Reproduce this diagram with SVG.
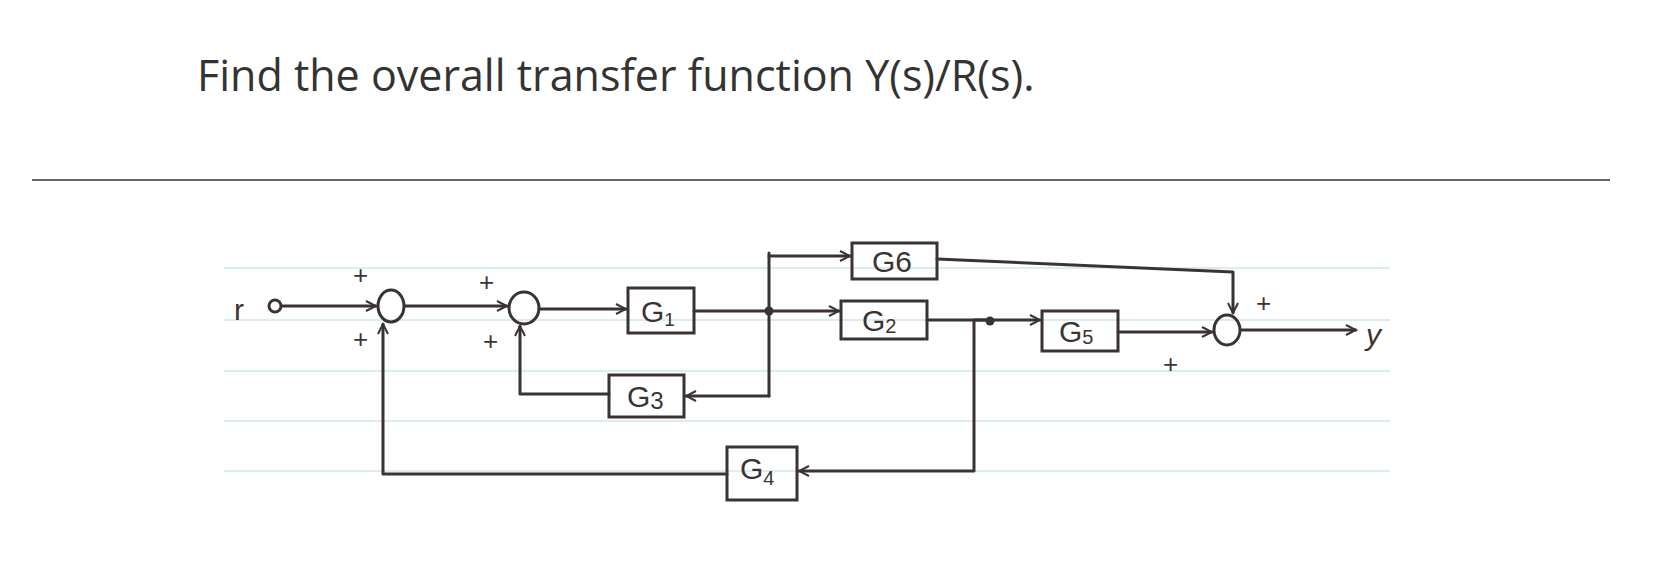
<svg xmlns="http://www.w3.org/2000/svg" width="1662" height="564" viewBox="0 0 1662 564">
<style>
.w{stroke:#3b3333;stroke-width:3;fill:none;stroke-linecap:round;stroke-linejoin:round}
.b{stroke:#3b3333;stroke-width:3;fill:none}
.t{font-family:"Liberation Sans",sans-serif;fill:#3b3333;font-size:30px}
.p{font-family:"Liberation Sans",sans-serif;fill:#3b3333;font-size:26px}
.ruled{stroke:#cfe6ee;stroke-width:1.5}
</style>
<defs>
<marker id="a" viewBox="0 0 12 12" refX="11" refY="6" markerWidth="12" markerHeight="12" markerUnits="userSpaceOnUse" orient="auto">
<path d="M1,1 L11,6 L1,11" fill="none" stroke="#3b3333" stroke-width="2"/>
</marker>
</defs>
<rect width="1662" height="564" fill="#fff"/>
<text x="197" y="91" font-family="Open Sans, sans-serif" font-size="43" fill="#333">Find the overall transfer function Y(s)/R(s).</text>
<line x1="32" y1="180" x2="1610" y2="180" stroke="#333" stroke-width="1.5"/>
<g id="paper">
<line class="ruled" x1="224" y1="268" x2="1390" y2="268"/>
<line class="ruled" x1="224" y1="320" x2="1390" y2="320"/>
<line class="ruled" x1="224" y1="371" x2="1390" y2="371"/>
<line class="ruled" x1="224" y1="421" x2="1390" y2="421"/>
<line class="ruled" x1="224" y1="471" x2="1390" y2="471"/>
</g>
<g id="connectors">
<path class="w" d="M282,306 L376,306" marker-end="url(#a)"/>
<path class="w" d="M405,306 L507,306" marker-end="url(#a)"/>
<path class="w" d="M539,309 L626,309" marker-end="url(#a)"/>
<path class="w" d="M694,311 L769,311"/>
<path class="w" d="M769,253 L769,396"/>
<path class="w" d="M769,256 L850,256" marker-end="url(#a)"/>
<path class="w" d="M769,311 L839,311" marker-end="url(#a)"/>
<path class="w" d="M927,320 L990,320 L1040,320" marker-end="url(#a)"/>
<path class="w" d="M1118,332 L1212,332" marker-end="url(#a)"/>
<path class="w" d="M937,259 L1233,272 L1233,313" marker-end="url(#a)"/>
<path class="w" d="M1241,330 L1356,330" marker-end="url(#a)"/>
<path class="w" d="M769,396 L686,396" marker-end="url(#a)"/>
<path class="w" d="M609,394 L520,394 L520,326" marker-end="url(#a)"/>
<path class="w" d="M990,320 L974,320 L974,471 L799,471" marker-end="url(#a)"/>
<path class="w" d="M727,474 L383,474 L383,324" marker-end="url(#a)"/>
<circle cx="769" cy="311" r="4.5" fill="#3b3333"/>
<circle cx="990" cy="321" r="4.5" fill="#3b3333"/>
</g>
<g id="input">
<text class="t" x="234" y="320">r</text>
<circle class="b" cx="275" cy="306" r="6"/>
</g>
<g id="sum1">
<ellipse class="b" cx="391" cy="306" rx="13" ry="16"/>
<text class="p" x="353" y="284">+</text>
<text class="p" x="353" y="348">+</text>
</g>
<g id="sum2">
<ellipse class="b" cx="524" cy="308" rx="15" ry="16"/>
<text class="p" x="479" y="291">+</text>
<text class="p" x="483" y="350">+</text>
</g>
<g id="sum3">
<ellipse class="b" cx="1227" cy="330" rx="13" ry="15"/>
<text class="p" x="1256" y="312">+</text>
<text class="p" x="1163" y="373">+</text>
</g>
<g id="G1"><rect class="b" x="628" y="288" width="66" height="45"/><text class="t" x="641" y="322">G<tspan font-size="19" dy="4">1</tspan></text></g>
<g id="G6"><rect class="b" x="852" y="243" width="85" height="36"/><text class="t" x="872" y="272">G6</text></g>
<g id="G2"><rect class="b" x="841" y="301" width="86" height="38"/><text class="t" x="862" y="331">G<tspan font-size="20" dy="2">2</tspan></text></g>
<g id="G5"><rect class="b" x="1042" y="311" width="76" height="40"/><text class="t" x="1059" y="342">G<tspan font-size="20" dy="2">5</tspan></text></g>
<g id="G3"><rect class="b" x="609" y="375" width="75" height="42"/><text class="t" x="627" y="407">G<tspan font-size="24" dy="2">3</tspan></text></g>
<g id="G4"><rect class="b" x="727" y="447" width="70" height="53"/><text class="t" x="740" y="479">G<tspan font-size="20" dy="6">4</tspan></text></g>
<g id="output"><text class="t" x="1366" y="345" font-style="italic">y</text></g>
</svg>
